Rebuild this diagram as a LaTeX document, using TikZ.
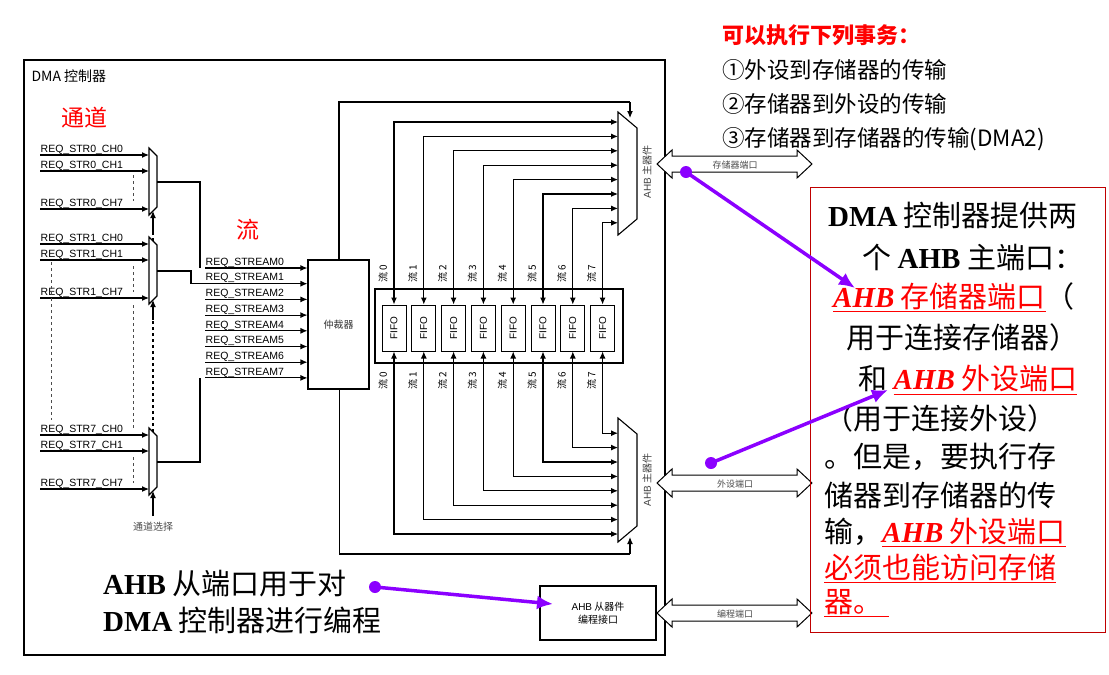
\documentclass[tikz,border=0pt]{standalone}
\usepackage{fontspec}
\setmainfont{Noto Sans CJK SC}
\newfontfamily\tms{Liberation Serif}
\newfontfamily\ars{Liberation Sans}
\usetikzlibrary{calc,arrows.meta}
\definecolor{vio}{HTML}{8B00FF}
\definecolor{boxred}{HTML}{C00000}
\begin{document}
\begin{tikzpicture}[x=1pt,y=-1pt,
  ln/.style={line width=1.1pt,black},
  ar/.style={ln,-{Latex[length=7pt,width=6pt]}},
  dar/.style={ln,{Latex[length=7pt,width=6pt]}-{Latex[length=7pt,width=6pt]}},
  req/.style={font=\ars\fontsize{10.5}{11}\selectfont,anchor=south west,inner sep=0.5pt},
  gr/.style={font=\fontsize{9}{10}\selectfont,text=black!70},
  pu/.style={vio,line width=3.5pt,-{Latex[length=16pt,width=14pt]}},
  big/.style={font=\fontsize{29}{30}\selectfont,anchor=west,inner sep=0pt},
  mux/.style={line width=1.1pt,fill=white}]
\useasboundingbox (0,0) rectangle (1109,675);
% outer controller box
\draw[line width=1.2pt] (24,60) rectangle (665,655);
\node[anchor=west,font=\fontsize{14}{16}\selectfont] (title) at (28,76) {DMA 控制器};
\node[red,font=\fontsize{23}{25}\selectfont] (tongdao) at (84,118) {通道};
\node[red,font=\fontsize{23}{25}\selectfont] (liu) at (248,230) {流};

% channel multiplexers
\foreach \g/\t in {0/148,1/237,7/428}{
  \draw[mux] (149,\t) -- (157,\t+8) -- (157,\t+59) -- (149,\t+67) -- cycle;
  \coordinate (m\g-out) at (157,\t+34);
  \coordinate (m\g-bot) at (153,\t+63);
  \coordinate (m\g-top) at (153,\t+4);
  \foreach \c/\o in {0/7,1/23,7/61}{
    \coordinate (i\g\c) at (40,\t+\o);
    \coordinate (e\g\c) at (149,\t+\o);
    \draw[ar] (i\g\c) -- (e\g\c);
    \node[req] (l\g\c) at (i\g\c) {REQ\_STR\g\_CH\c};
  }
}
% dashed lines between channel groups
\draw[dashed,line width=0.8pt,black!70] (51,262) -- (51,420);
\draw[dashed,line width=0.8pt,black!70] (133,175) -- (133,201);
\draw[dashed,line width=0.8pt,black!70] (133,266) -- (133,292);
\draw[dashed,line width=0.8pt,black!70] (133,305) -- (133,428);
\draw[dashed,line width=0.8pt,black!70] (133,457) -- (133,483);
% channel select
\node[gr,font=\fontsize{10}{11}\selectfont] (sel) at (153,527) {通道选择};
\coordinate (selb) at (153,516);
\draw[ar] (selb) -- (m7-bot);
\draw[ln,dashed] (m7-top) -- (153,320);
\draw[ar] (153,320) -- (m1-bot);
\draw[ln,dashed] (m1-top) -- (153,232);
\draw[ar] (153,232) -- (m0-bot);

% arbiter
\node[draw,line width=1.1pt,minimum width=61pt,minimum height=129pt,inner sep=0pt,font=\fontsize{10}{11}\selectfont,text=black!80] (arb) at (338.5,324.5) {仲裁器};
\foreach \s in {0,...,7}{
  \pgfmathsetmacro{\yy}{268+15.7*\s}
  \coordinate (s\s) at (205,\yy);
  \draw[ar] (s\s) -- (arb.west |- s\s);
  \node[req] (ls\s) at (s\s) {REQ\_STREAM\s};
}
\draw[ln] (m0-out) -- (200,182) -- (200,268);
\draw[ln] (m1-out) -- (191,271) -- (191,283.7) -- (s1);
\draw[ln] (m7-out) -- (200,462) -- (200,377.9);

% FIFO block
\node[draw,line width=1.2pt,minimum width=248pt,minimum height=74pt,inner sep=0pt] (fb) at (499,326) {};
\foreach \i in {0,...,7}{
  \pgfmathsetmacro{\xx}{394+29.8*\i}
  \node[draw,line width=1pt,minimum width=24pt,minimum height=46pt,inner sep=0pt,
        font=\ars\fontsize{10}{11}\selectfont] (f\i) at (\xx,328) {\rotatebox{90}{FIFO}};
  \node[rotate=90,font=\fontsize{10}{11}\selectfont,anchor=west] (tl\i) at (\xx-11,286) {流 \i};
  \node[rotate=90,font=\fontsize{10}{11}\selectfont,anchor=east] (bl\i) at (\xx-11,368) {流 \i};
}
% AHB master muxes
\draw[mux] (618,112) -- (637,128) -- (637,219) -- (618,235) -- cycle;
\draw[mux] (618,418) -- (637,434) -- (637,526) -- (618,542) -- cycle;
\coordinate (mu) at (618,112);
\coordinate (ml) at (618,418);
\node[rotate=90,font=\fontsize{10}{11}\selectfont,text=black!75] (ahbu) at (647,172) {{\ars AHB} 主器件};
\node[rotate=90,font=\fontsize{10}{11}\selectfont,text=black!75] (ahbl) at (647,480) {{\ars AHB} 主器件};
\foreach \i in {0,...,7}{
  \pgfmathsetmacro{\xx}{394+29.8*\i}
  \pgfmathsetmacro{\yt}{122+14.4*\i}
  \pgfmathsetmacro{\yb}{534-14.4*\i}
  \draw[dar] (f\i.north) -- (\xx,\yt) -- (mu |- 0,\yt);
  \draw[dar] (f\i.south) -- (\xx,\yb) -- (ml |- 0,\yb);
}
% arbiter to AHB masters
\draw[ln] (arb.north) ++(0.5,0) coordinate (an) -- (an |- 0,102) -- (630,102) coordinate (tu);
\draw[ar] (tu) -- (630,118);
\draw[ln] (arb.south) ++(1,0) coordinate (as) -- (as |- 0,554) -- (630,554) coordinate (tl);
\draw[ar] (tl) -- (630,537);

% port double arrows
\foreach \n/\y/\t in {pm/164/存储器端口,pp/483/外设端口,pg/613/编程端口}{
  \draw[line width=1pt,fill=white] (657,\y) -- (672,\y-14) -- (672,\y-8) -- (797,\y-8) -- (797,\y-14)
    -- (812,\y) -- (797,\y+14) -- (797,\y+8) -- (672,\y+8) -- (672,\y+14) -- cycle;
  \node[gr] (\n) at (735,\y+1) {\t};
}
% AHB slave
\node[draw,line width=1.1pt,minimum width=116pt,minimum height=54pt,inner sep=0pt,
  align=center,font=\fontsize{10}{13}\selectfont] (slv) at (598,613) {{\ars AHB} 从器件\\编程接口};

% annotation text
\node[anchor=west,font=\fontsize{29}{37}\selectfont,align=left,inner sep=0pt] (prog) at (103,602)
  {{\tms\bfseries AHB} 从端口用于对\\{\tms\bfseries DMA} 控制器进行编程};
\node[anchor=west,red,font=\fontsize{22}{23}\selectfont\bfseries,inner sep=0pt] (can) at (722,35) {可以执行下列事务：};
\node[anchor=west,font=\fontsize{22.5}{23}\selectfont,inner sep=0pt] (t1) at (722,70) {①外设到存储器的传输};
\node[anchor=west,font=\fontsize{22.5}{23}\selectfont,inner sep=0pt] (t2) at (722,104) {②存储器到外设的传输};
\node[anchor=west,font=\fontsize{22.5}{23}\selectfont,inner sep=0pt] (t3) at (722,139) {③存储器到存储器的传输(DMA2)};

\draw[boxred,line width=0.8pt] (810,187) rectangle (1105,632);
\node[big] (r1) at (828,215) {{\tms\bfseries DMA} 控制器提供两};
\node[big] (r2) at (862,257) {个 {\tms\bfseries AHB} 主端口：};
\node[big] (r3) at (833,297) {\textcolor{red}{\underline{{\tms\itshape\bfseries AHB} 存储器端口}}（};
\node[big] (r4) at (846,337) {用于连接存储器）};
\node[big] (r5) at (858,380) {和 \textcolor{red}{\underline{{\tms\itshape\bfseries AHB} 外设端口}}};
\node[big] (r6) at (824,418) {（用于连接外设）};
\node[big] (r7) at (824,457) {。但是，要执行存};
\node[big] (r8) at (824,495) {储器到存储器的传};
\node[big] (r9) at (824,532) {输，\textcolor{red}{\underline{{\tms\itshape\bfseries AHB} 外设端口}}};
\node[big,red] (r10) at (824,568) {\underline{必须也能访问存储}};
\node[big,red] (r11) at (824,603) {\underline{器。\ }};

% purple pointers
\coordinate (d1) at (686,172);
\coordinate (d2) at (711,463);
\coordinate (d3) at (375,587);
\coordinate (p3) at (553,604);
\fill[vio] (d1) circle (6);
\fill[vio] (d2) circle (6);
\fill[vio] (d3) circle (6);
\draw[pu] (d1) -- (855,288);
\draw[pu] (d2) -- (888,390);
\draw[pu] (d3) -- (p3);
\end{tikzpicture}
\end{document}
